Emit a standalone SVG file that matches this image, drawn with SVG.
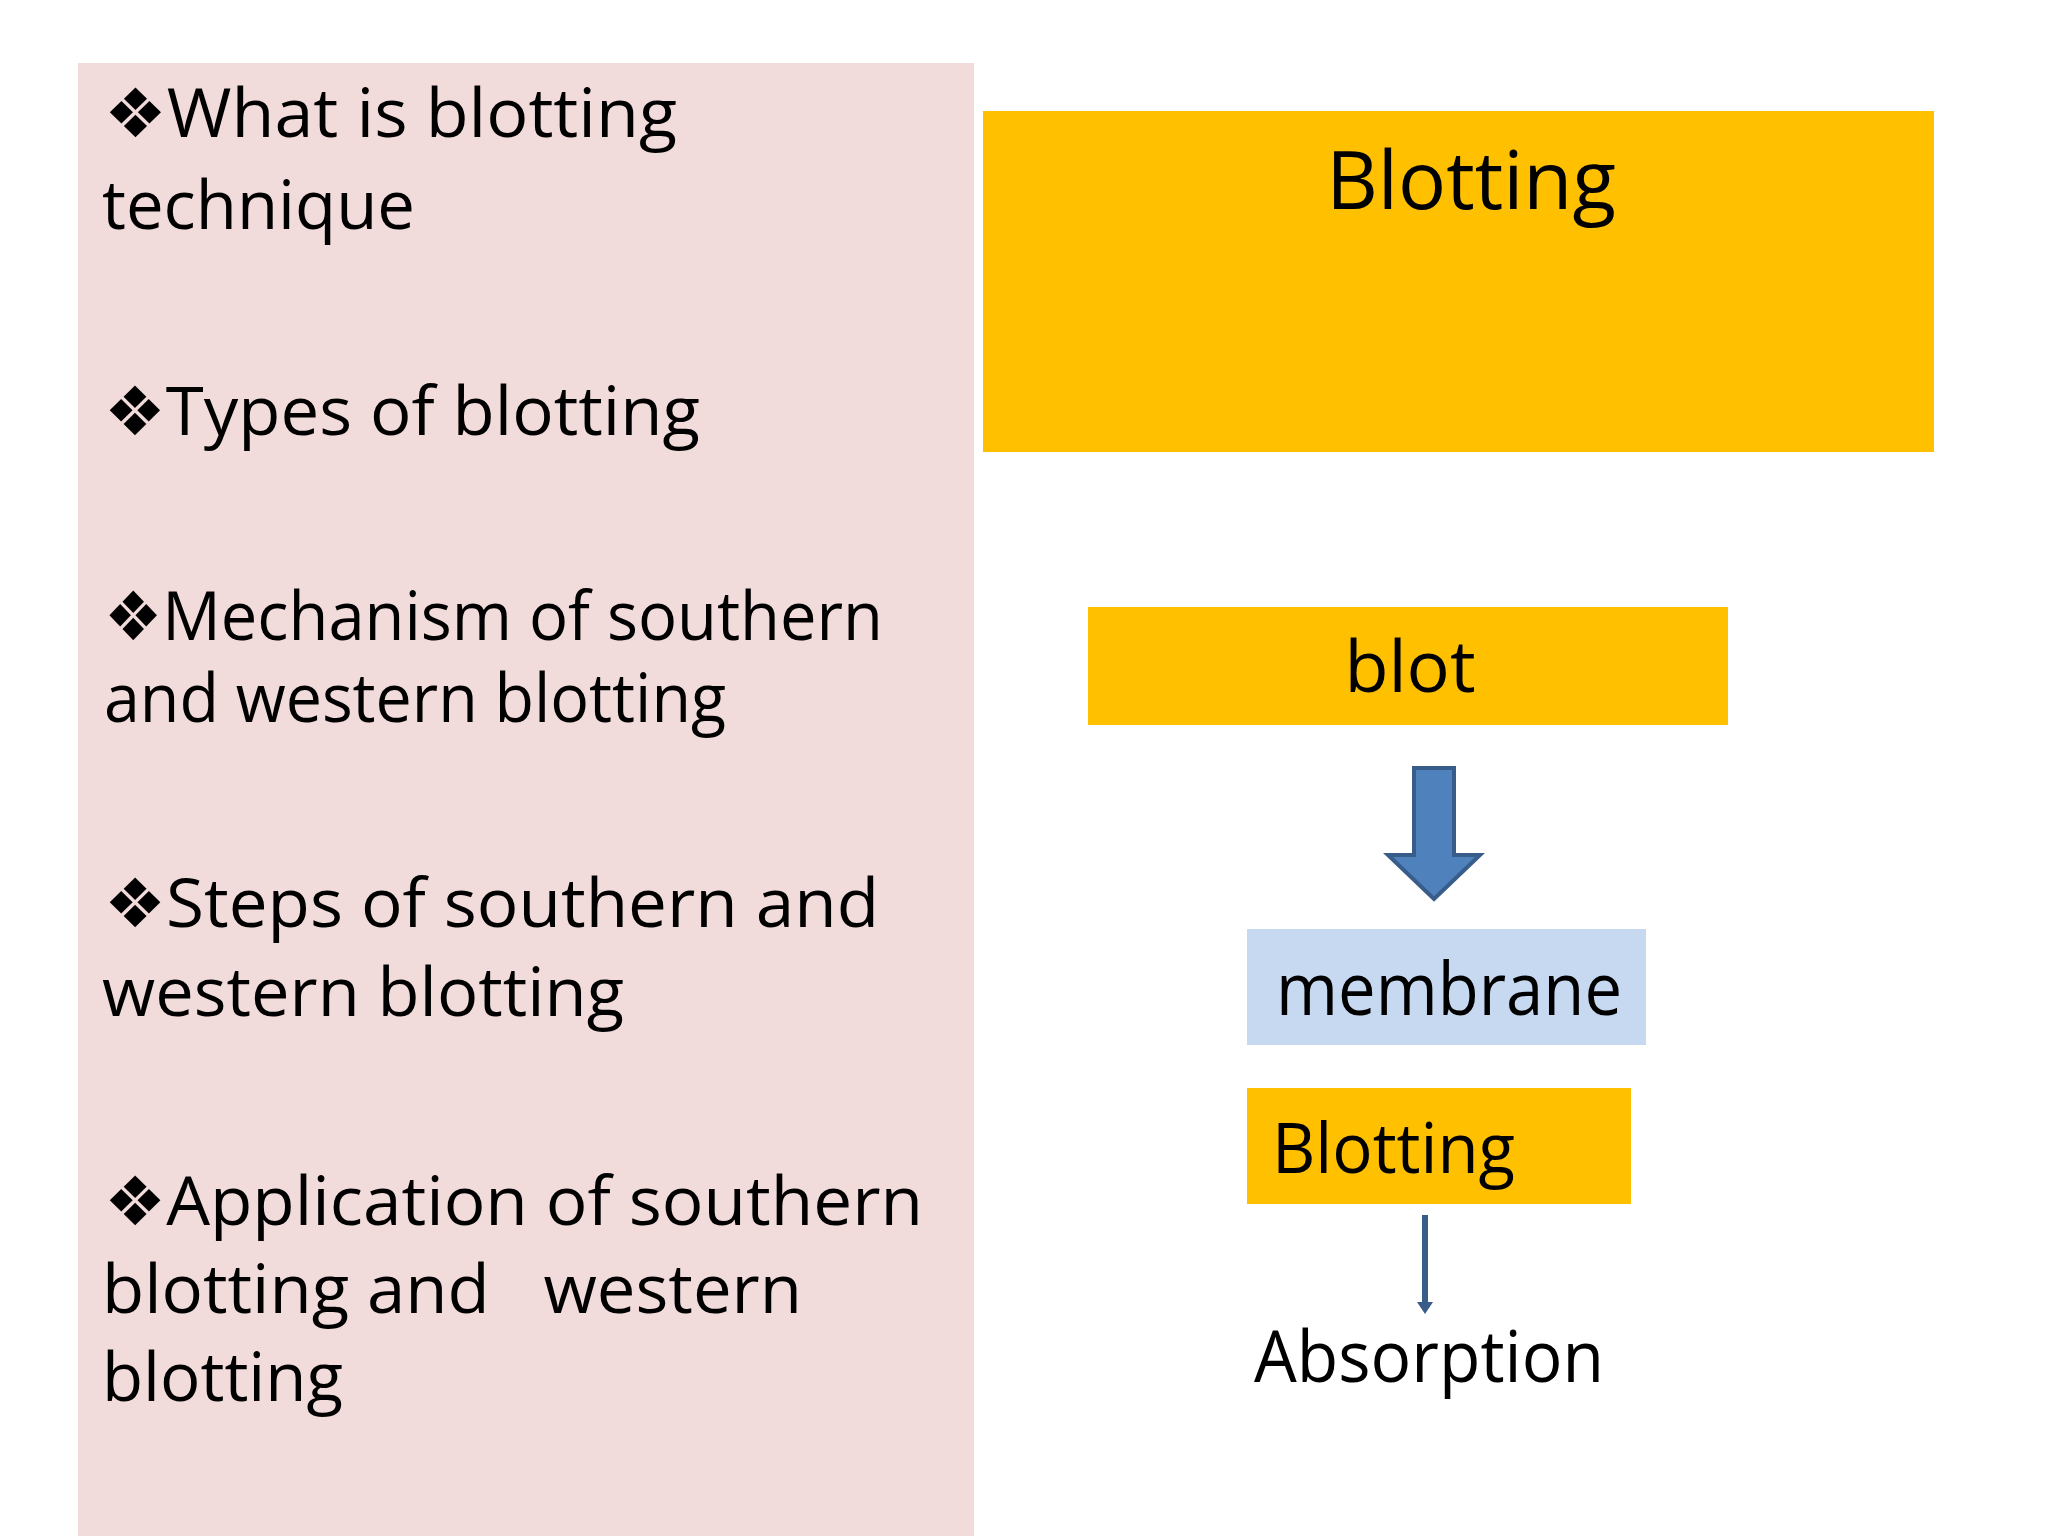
<svg xmlns="http://www.w3.org/2000/svg" width="2048" height="1536" viewBox="0 0 2048 1536">
<style>
.t{font-family:"Open Sans","DejaVu Sans",sans-serif;fill:#000}
.l{font-size:68px}
.o{fill:#ffc000}
</style>
<rect width="2048" height="1536" fill="#fff"/>
<g id="panel">
<rect x="78" y="63" width="896" height="1473" fill="#f2dcdb"/>
<text class="t l" x="104" y="137" textLength="573" lengthAdjust="spacingAndGlyphs">❖What is blotting</text>
<text class="t l" x="102" y="229" textLength="313" lengthAdjust="spacingAndGlyphs">technique</text>
<text class="t l" x="104" y="435" textLength="596" lengthAdjust="spacingAndGlyphs">❖Types of blotting</text>
<text class="t l" x="104" y="640" textLength="779" lengthAdjust="spacingAndGlyphs">❖Mechanism of southern</text>
<text class="t l" x="104" y="722" textLength="622" lengthAdjust="spacingAndGlyphs">and western blotting</text>
<text class="t l" x="104" y="927" textLength="775" lengthAdjust="spacingAndGlyphs">❖Steps of southern and</text>
<text class="t l" x="102" y="1016" textLength="522" lengthAdjust="spacingAndGlyphs">western blotting</text>
<text class="t l" x="104" y="1225" textLength="819" lengthAdjust="spacingAndGlyphs">❖Application of southern</text>
<text class="t l" x="102" y="1313" textLength="700" lengthAdjust="spacingAndGlyphs" xml:space="preserve">blotting and   western</text>
<text class="t l" x="102" y="1401" textLength="241" lengthAdjust="spacingAndGlyphs">blotting</text>
</g>
<g id="title">
<rect class="o" x="983" y="111" width="951" height="341"/>
<text class="t" x="1471" y="209" font-size="80" text-anchor="middle">Blotting</text>
</g>
<g id="blot">
<rect class="o" x="1088" y="607" width="640" height="118"/>
<text class="t" x="1410" y="692" font-size="72" text-anchor="middle">blot</text>
</g>
<g id="membrane">
<rect x="1247" y="929" width="399" height="116" fill="#c6d9f1"/>
<text class="t" x="1276" y="1015" font-size="74" textLength="346" lengthAdjust="spacingAndGlyphs">membrane</text>
</g>
<g id="blotting2">
<rect class="o" x="1247" y="1088" width="384" height="116"/>
<text class="t" x="1272" y="1173" font-size="70" textLength="243" lengthAdjust="spacingAndGlyphs">Blotting</text>
</g>
<g id="absorption">
<text class="t" x="1254" y="1382" font-size="72" textLength="350" lengthAdjust="spacingAndGlyphs">Absorption</text>
</g>
<g id="connectors">
<path d="M1414 768H1454V855H1480L1434 899L1388 855H1414Z" fill="#4f81bd" stroke="#385d8a" stroke-width="4"/>
<line x1="1425" y1="1215" x2="1425" y2="1303" stroke="#385d8a" stroke-width="6"/>
<path d="M1417 1302H1433L1425 1314Z" fill="#385d8a"/>
</g>
</svg>
